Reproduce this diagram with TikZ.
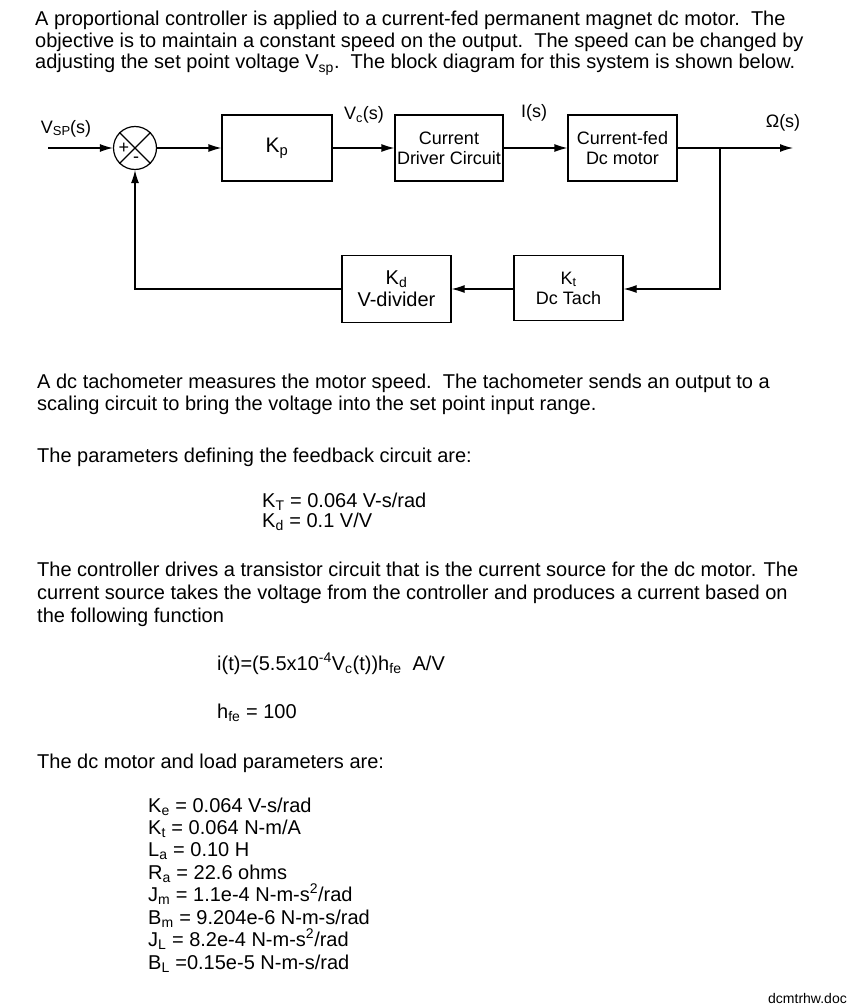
\documentclass[tikz,border=0pt]{standalone}
\usepackage{fontspec}
\setmainfont{Liberation Sans}
\usetikzlibrary{arrows.meta}
\begin{document}
\begin{tikzpicture}[x=1pt,y=-1pt,
  txt/.style={anchor=base west,inner sep=0pt,font=\fontsize{20}{21.5}\selectfont},
  blk/.style={draw,line width=1.2pt,align=center,inner sep=1pt,font=\fontsize{18}{20}\selectfont},
  lbl/.style={inner sep=0pt,font=\fontsize{18}{20}\selectfont},
  arr/.style={line width=1.2pt,-{Latex[length=13pt,width=8pt]}},
  ln/.style={line width=1.2pt}]
\useasboundingbox[fill=white] (0,0) rectangle (866,1006);

% ---- top paragraph
\node[txt] (p1) at (35,26) {A proportional controller is applied to a current-fed permanent magnet dc motor.\ \ The};
\node[txt] (p2) at (35,47.5) {objective is to maintain a constant speed on the output.\ \ The speed can be changed by};
\node[txt] (p3) at (35,69) {adjusting the set point voltage V\textsubscript{sp}.\ \ The block diagram for this system is shown below.};

% ---- block diagram
\node[circle,draw,line width=1.2pt,minimum size=43pt,inner sep=0pt] (sum) at (135,148) {};
\draw[ln] (sum.north west) -- (sum.south east);
\draw[ln] (sum.north east) -- (sum.south west);
\node[inner sep=0pt,font=\fontsize{18}{18}\selectfont] (plus) at (124,148) {+};
\node[inner sep=0pt,font=\fontsize{18}{18}\selectfont] (minus) at (136,160) {-};

\node[blk,minimum width=110pt,minimum height=66pt,font=\fontsize{21}{22}\selectfont] (kp) at (277,148) {K\textsubscript{p}};
\node[blk,minimum width=108pt,minimum height=66pt] (drv) at (449,148) {Current\\Driver Circuit};
\node[blk,minimum width=109pt,minimum height=66pt] (mot) at (622.5,148) {Current-fed\\Dc motor};
\node[blk,minimum width=109pt,minimum height=67pt,font=\fontsize{20}{22}\selectfont] (vd) at (396.5,289) {K\textsubscript{d}\\V-divider};
\node[blk,minimum width=109pt,minimum height=65pt] (tach) at (568.5,288) {K\textsubscript{t}\\Dc Tach};

\coordinate (in) at (48,148);
\coordinate (out) at (793,148);
\coordinate (br) at (720,148);
\coordinate (brd) at (720,289);
\coordinate (fbl) at (135,289);

\draw[arr] (in) -- (sum.west);
\draw[arr] (sum.east) -- (kp.west);
\draw[arr] (kp.east) -- (drv.west);
\draw[arr] (drv.east) -- (mot.west);
\draw[arr] (mot.east) -- (out);
\draw[arr] (br) -- (brd) -- (tach.east |- brd);
\draw[arr] (tach.west |- brd) -- (vd.east |- brd);
\draw[arr] (vd.west |- brd) -- (fbl) -- (sum.south);

\node[lbl] (lvsp) at (66,129) {V\raisebox{-1.5pt}{\fontsize{13}{13}\selectfont SP}(s)};
\node[lbl] (lvc) at (364,115) {V\textsubscript{c}(s)};
\node[lbl] (li) at (534,113) {I(s)};
\node[lbl] (lw) at (783,123) {Ω(s)};

% ---- second paragraph
\node[txt] (q1) at (37,388) {A dc tachometer measures the motor speed.\ \ The tachometer sends an output to a};
\node[txt] (q2) at (37,410.5) {scaling circuit to bring the voltage into the set point input range.};
\node[txt] (q3) at (37,462) {The parameters defining the feedback circuit are:};
\node[txt] (kt) at (262,507) {K\textsubscript{T} = 0.064 V-s/rad};
\node[txt] (kd) at (262,527) {K\textsubscript{d} = 0.1 V/V};

\node[txt] (r1) at (37,576) {The controller drives a transistor circuit that is the current source for the dc motor. The};
\node[txt] (r2) at (37,599) {current source takes the voltage from the controller and produces a current based on};
\node[txt] (r3) at (37,622) {the following function};
\node[txt] (it) at (217,670) {i(t)=(5.5x10\textsuperscript{-4}V\textsubscript{c}(t))h\textsubscript{fe}\ \ A/V};
\node[txt] (hfe) at (217,718) {h\textsubscript{fe} = 100};

\node[txt] (s0) at (37,768) {The dc motor and load parameters are:};
\node[txt] (s1) at (148,812) {K\textsubscript{e} = 0.064 V-s/rad};
\node[txt] (s2) at (148,834) {K\textsubscript{t} = 0.064 N-m/A};
\node[txt] (s3) at (148,856.5) {L\textsubscript{a} = 0.10 H};
\node[txt] (s4) at (148,879) {R\textsubscript{a} = 22.6 ohms};
\node[txt] (s5) at (148,901) {J\textsubscript{m} = 1.1e-4 N-m-s\textsuperscript{2}/rad};
\node[txt] (s6) at (148,924) {B\textsubscript{m} = 9.204e-6 N-m-s/rad};
\node[txt] (s7) at (148,946) {J\textsubscript{L} = 8.2e-4 N-m-s\textsuperscript{2}/rad};
\node[txt] (s8) at (148,969) {B\textsubscript{L} =0.15e-5 N-m-s/rad};

\node[anchor=base west,inner sep=0pt,font=\fontsize{14}{14}\selectfont] (foot) at (768,1003) {dcmtrhw.doc};
\end{tikzpicture}
\end{document}
